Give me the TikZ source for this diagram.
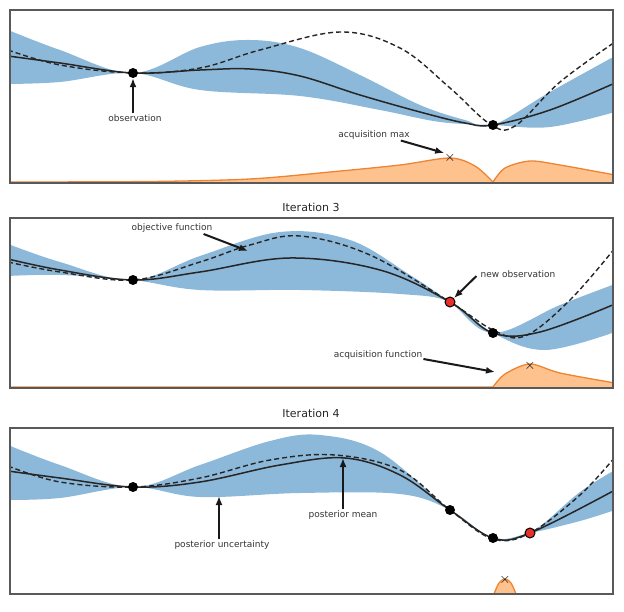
\documentclass[tikz,border=0pt]{standalone}
\usepackage{fontspec}
\setmainfont{DejaVu Sans}
\usetikzlibrary{arrows.meta}
\definecolor{band}{HTML}{8CB8D9}
\definecolor{acqf}{HTML}{FDC28E}
\definecolor{acql}{HTML}{EE8433}
\definecolor{obsred}{HTML}{E8302A}
\begin{document}
\begin{tikzpicture}[x=1pt,y=-1pt,
  frame/.style={draw=black!65,line width=1.2pt},
  bandf/.style={fill=band,draw=none},
  mean/.style={draw=black!85,line width=1.5pt},
  obj/.style={draw=black!85,line width=1.4pt,dash pattern=on 5pt off 3pt},
  acq/.style={fill=acqf,draw=acql,line width=1.3pt},
  obs/.style={circle,fill=black,inner sep=0pt,minimum size=10pt},
  newobs/.style={circle,fill=obsred,draw=black,line width=1pt,inner sep=0pt,minimum size=10pt},
  lbl/.style={font=\fontsize{9}{10}\selectfont,text=black!80,inner sep=1pt},
  ttl/.style={font=\fontsize{11}{12}\selectfont,text=black!85},
  arr/.style={-{Latex[length=9pt,width=7pt]},line width=2pt,black!90},
  xm/.style={font=\fontsize{14}{14}\selectfont,inner sep=0pt}]
\useasboundingbox (0,0) rectangle (624,612);
% ---------- panel 1
\begin{scope}
\clip (10,10) rectangle (613,183);
\path[bandf] plot[smooth,tension=0.6] coordinates {(8,30)(60,50)(133,73)(200,47)(250,40)(300,48)(360,75)(420,105)(465,120)(493,125)(550,92)(615,56)}
 -- plot[smooth,tension=0.6] coordinates {(615,112)(550,127)(493,125)(440,122)(380,110)(300,96)(200,90)(133,73)(60,82)(8,84)} -- cycle;
\draw[mean] plot[smooth,tension=0.6] coordinates {(8,56)(60,63)(133,73)(200,70)(250,69)(300,76)(360,95)(420,112)(465,123)(493,125)(550,110)(615,83)};
\draw[obj] plot[smooth,tension=0.6] coordinates {(8,50)(60,65)(133,73)(200,68)(260,50)(340,32)(400,48)(450,88)(490,124)(515,126)(560,82)(615,42)};
\path[acq] plot[smooth,tension=0.5] coordinates {(8,182)(150,181.5)(250,179)(330,172)(400,165)(450,158)(475,166)(493,182)} -- plot[smooth,tension=0.5] coordinates {(493,182)(505,168)(530,161)(560,165)(615,175)} -- (615,184) -- (8,184) -- cycle;
\end{scope}
\draw[frame] (10,10) rectangle (613,183);
\node[obs] (o11) at (133,73) {};
\node[obs] (o12) at (493,125) {};
\node[xm] (x1) at (450,158) {$\times$};
\node[lbl] (lobs) at (135,118) {observation};
\node[lbl] (lmax) at (374,135) {acquisition max};
\draw[arr] (lobs.north) ++(-2,0) -- (o11.south);
\draw[arr] (lmax.south east) ++(-10,0) -- (x1.north west);
% ---------- panel 2
\node[ttl] (t3) at (311,207) {Iteration 3};
\begin{scope}
\clip (10,218) rectangle (613,388);
\path[bandf] plot[smooth,tension=0.6] coordinates {(8,244)(60,262)(133,280)(200,256)(280,232)(350,240)(410,275)(450,302)(493,333)(560,305)(615,284)}
 -- plot[smooth,tension=0.6] coordinates {(615,332)(545,350)(493,333)(450,302)(400,294)(300,290)(200,290)(133,280)(60,275)(8,276)} -- cycle;
\draw[mean] plot[smooth,tension=0.6] coordinates {(8,259)(60,270)(133,280)(200,272)(290,258)(380,270)(450,302)(493,333)(540,332)(615,304)};
\draw[obj] plot[smooth,tension=0.6] coordinates {(8,262)(60,272)(133,280)(200,262)(250,245)(300,236)(370,255)(450,302)(493,330)(525,336)(570,300)(615,248)};
\path[acq] plot[smooth,tension=0.5] coordinates {(493,387)(505,374)(530,364)(560,373)(615,383)} -- (615,389) -- (8,389) -- (8,387) -- cycle;
\draw[acql,line width=1.3pt] (8,387.5) -- (493,387.5);
\end{scope}
\draw[frame] (10,218) rectangle (613,388);
\node[obs] (o21) at (133,280) {};
\node[newobs] (o22) at (450,302) {};
\node[obs] (o23) at (493,333) {};
\node[xm] (x2) at (530,366) {$\times$};
\node[lbl] (lobj) at (172,228) {objective function};
\node[lbl] (lnew) at (518,274) {new observation};
\node[lbl] (lacq) at (378,355) {acquisition function};
\coordinate (cobj) at (248,251);
\coordinate (cacq) at (495,372);
\draw[arr] (lobj.east) ++(-10,6) -- (cobj);
\draw[arr] (lnew.west) ++(-3,2) -- (o22.north east);
\draw[arr] (lacq.east) ++(0,4) -- (cacq);
% ---------- panel 3
\node[ttl] (t4) at (311,413) {Iteration 4};
\begin{scope}
\clip (10,428) rectangle (613,594);
\path[bandf] plot[smooth,tension=0.6] coordinates {(8,445)(60,465)(133,487)(200,465)(270,441)(320,435)(380,452)(450,510)(493,538)(530,533)(580,492)(615,470)}
 -- plot[smooth,tension=0.6] coordinates {(615,510)(580,521)(530,533)(493,538)(450,510)(400,494)(300,493)(200,497)(133,487)(60,498)(8,500)} -- cycle;
\draw[mean] plot[smooth,tension=0.6] coordinates {(8,471)(60,478)(133,487)(200,482)(280,465)(345,458)(400,475)(450,510)(493,538)(530,533)(615,490)};
\draw[obj] plot[smooth,tension=0.6] coordinates {(8,466)(60,482)(133,487)(200,478)(270,460)(335,455)(400,470)(450,510)(493,539)(530,533)(580,495)(615,457)};
\path[acq] plot[smooth,tension=0.6] coordinates {(494,594)(499,583)(505,579)(511,583)(516,594)} -- cycle;
\draw[acql,line width=1.3pt] (8,593.5) -- (615,593.5);
\end{scope}
\draw[frame] (10,428) rectangle (613,594);
\node[obs] (o31) at (133,487) {};
\node[obs] (o32) at (450,510) {};
\node[obs] (o33) at (493,538) {};
\node[newobs] (o34) at (530,533) {};
\node[xm] (x3) at (505,580) {$\times$};
\node[lbl] (lmean) at (343,515) {posterior mean};
\node[lbl] (lunc) at (222,545) {posterior uncertainty};
\coordinate (cmean) at (343,458);
\coordinate (cunc) at (219,496);
\draw[arr] (lmean.north) -- (cmean);
\draw[arr] (lunc.north) ++(-3,0) -- (cunc);
\end{tikzpicture}
\end{document}
